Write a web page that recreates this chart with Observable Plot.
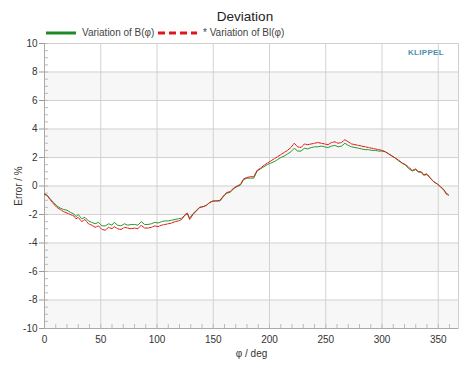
<!DOCTYPE html>
<html>
<head>
<meta charset="utf-8">
<script src="https://cdn.jsdelivr.net/npm/d3@7"></script>
<script src="https://cdn.jsdelivr.net/npm/@observablehq/plot@0.6"></script>
<style>
  html, body { margin: 0; padding: 0; background: #fff; }
  #wrap { position: relative; width: 474px; height: 367px; font-family: "Liberation Sans", Arial, sans-serif; }
  #title { position: absolute; left: 0; width: 490px; top: 9px; text-align: center; font-size: 13.5px; color: #222; }
  .leg { position: absolute; top: 27px; font-size: 10px; color: #444; display: flex; align-items: center; }
  .leg svg { margin-right: 6px; }
  #klippel { position: absolute; left: 408px; top: 48px; font-size: 8px; font-weight: bold; color: #4a8fb0; letter-spacing: 0.3px; }
</style>
</head>
<body>
<div id="wrap">
  <div id="title">Deviation</div>
  <div class="leg" style="left:46px"><svg width="30" height="10"><line x1="0" x2="30" y1="5" y2="5" stroke="#1f8a26" stroke-width="3"/></svg>Variation of B(φ)</div>
  <div class="leg" style="left:158px"><svg width="39" height="10"><line x1="0" x2="39" y1="5" y2="5" stroke="#e3141c" stroke-width="3" stroke-dasharray="7,4"/></svg>* Variation of Bl(φ)</div>
  <div id="chart"></div>
  <div id="klippel">KLIPPEL</div>
</div>
<script>
const angle = [0,2,5,8,11,14,17,20,23,26,28,30,33,36,39,42,45,48,51,54,57,60,62,65,68,71,74,77,80,83,86,89,92,95,98,101,104,107,110,113,116,119,122,125,127,129,132,135,138,141,144,147,150,153,156,159,162,165,168,171,174,177,180,183,186,189,192,195,198,201,204,207,210,213,216,219,222,225,228,231,234,237,240,243,246,249,252,255,258,261,264,267,270,273,276,279,282,285,288,291,294,297,300,303,306,309,312,315,318,321,324,327,330,332,335,337,340,343,346,349,352,355,357,359];
const variationB = [-0.55,-0.62,-0.9,-1.15,-1.4,-1.55,-1.65,-1.7,-1.85,-1.95,-2.15,-2.0,-2.3,-2.2,-2.45,-2.55,-2.65,-2.55,-2.8,-2.8,-2.65,-2.75,-2.55,-2.75,-2.8,-2.65,-2.75,-2.7,-2.7,-2.75,-2.5,-2.7,-2.7,-2.65,-2.55,-2.6,-2.5,-2.45,-2.45,-2.4,-2.35,-2.3,-2.25,-2.05,-1.95,-2.25,-1.95,-1.7,-1.5,-1.45,-1.35,-1.15,-1.05,-1.05,-1.05,-0.75,-0.5,-0.45,-0.2,-0.05,0.05,0.45,0.55,0.55,0.55,1.05,1.2,1.35,1.5,1.6,1.7,1.85,2.0,2.1,2.25,2.4,2.65,2.45,2.45,2.65,2.6,2.7,2.75,2.75,2.8,2.75,2.7,2.8,2.85,2.75,2.8,3.0,2.85,2.75,2.7,2.65,2.6,2.55,2.55,2.5,2.5,2.45,2.45,2.4,2.25,2.1,1.95,1.75,1.6,1.45,1.2,1.05,1.15,1.0,0.95,0.75,0.8,0.55,0.3,0.15,-0.05,-0.25,-0.5,-0.6];
const variationBl = [-0.6,-0.65,-0.95,-1.25,-1.5,-1.65,-1.8,-1.9,-2.0,-2.1,-2.3,-2.2,-2.5,-2.35,-2.65,-2.75,-2.9,-2.8,-3.05,-3.1,-2.9,-3.0,-2.85,-3.0,-3.05,-2.9,-2.95,-3.0,-2.95,-3.0,-2.75,-2.95,-2.95,-2.9,-2.8,-2.85,-2.75,-2.7,-2.65,-2.6,-2.5,-2.45,-2.35,-2.0,-1.9,-2.35,-2.0,-1.75,-1.5,-1.45,-1.35,-1.15,-1.05,-1.05,-1.0,-0.7,-0.45,-0.4,-0.15,0.0,0.1,0.5,0.6,0.65,0.65,1.1,1.25,1.45,1.6,1.75,1.9,2.05,2.2,2.35,2.5,2.7,3.0,2.75,2.7,2.95,2.9,2.95,3.0,3.05,3.0,2.95,2.9,3.05,3.1,3.0,3.05,3.25,3.1,2.95,2.9,2.85,2.8,2.75,2.7,2.65,2.6,2.55,2.5,2.4,2.25,2.1,1.95,1.8,1.6,1.5,1.3,1.1,1.2,1.0,1.0,0.8,0.85,0.55,0.3,0.15,-0.05,-0.3,-0.55,-0.65];
const xTicks = [0,50,100,150,200,250,300,350];
const yTicks = [-10,-8,-6,-4,-2,0,2,4,6,8,10];
const bandLows = [6,2,-2,-6,-10];

const rowsB = angle.map((a,i)=>({a, v: variationB[i]}));
const rowsBl = angle.map((a,i)=>({a, v: variationBl[i]}));
const bands = bandLows.map(l=>({y1:l, y2:l+2}));

const chart = Plot.plot({
  width: 474, height: 367,
  marginTop: 43, marginLeft: 44, marginRight: 16, marginBottom: 39,
  style: {fontFamily: "'Liberation Sans', Arial, sans-serif", fontSize: "10px", color: "#333", background: "#fff"},
  x: {domain: [0, 368]},
  y: {domain: [-10, 10]},
  marks: [
    Plot.rect(bands, {x1: 0, x2: 368, y1: "y1", y2: "y2", fill: "#f7f7f7"}),
    Plot.gridX(xTicks, {stroke: "#d2d2d2", strokeOpacity: 1}),
    Plot.gridY(yTicks, {stroke: "#d2d2d2", strokeOpacity: 1}),
    Plot.frame({stroke: "#cfcfcf"}),
    Plot.axisY(d3.range(-10, 10.01, 0.5), {tickSize: -4, text: null, stroke: "#bbb", label: null}),
    Plot.axisX(d3.range(0, 368, 10), {tickSize: -4, text: null, stroke: "#bbb", label: null}),
    Plot.axisY(yTicks, {tickSize: 5, tickPadding: 2, stroke: "#999", tickFormat: d => String(d), label: "Error / %", labelAnchor: "center", labelArrow: "none", labelOffset: 30, fill: "#333"}),
    Plot.axisX(xTicks, {tickSize: 0, tickPadding: 7, tickFormat: d => String(d), label: "φ / deg", labelAnchor: "center", labelArrow: "none", labelOffset: 28, fill: "#333"}),
    Plot.ruleX([0], {stroke: "#aaa"}),
    Plot.ruleY([-10], {stroke: "#aaa"}),
    Plot.line(rowsB, {x: "a", y: "v", stroke: "#2a9a2a", strokeWidth: 1}),
    Plot.line(rowsBl, {x: "a", y: "v", stroke: "#e3141c", strokeWidth: 1, strokeDasharray: "3,1"})
  ]
});
document.getElementById("chart").appendChild(chart);
</script>
</body>
</html>
